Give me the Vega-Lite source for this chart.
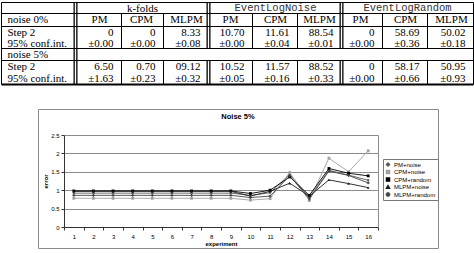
{
  "$schema": "https://vega.github.io/schema/vega-lite/v6.json",
  "padding": 0,
  "background": "white",
  "spacing": 24,
  "center": true,
  "bounds": "flush",
  "config": {"view": {"stroke": null}, "font": "Liberation Sans"},
  "datasets": {
    "vlines": [
      {"c": 0, "k1": 0, "k2": 7}, {"c": 10, "k1": 0, "k2": 7},
      {"c": 1, "k1": 0, "k2": 7},
      {"c": 4, "k1": 0, "k2": 4}, {"c": 4, "k1": 5, "k2": 7},
      {"c": 7, "k1": 0, "k2": 4}, {"c": 7, "k1": 5, "k2": 7},
      {"c": 2, "k1": 1, "k2": 4}, {"c": 2, "k1": 5, "k2": 7},
      {"c": 3, "k1": 1, "k2": 4}, {"c": 3, "k1": 5, "k2": 7},
      {"c": 5, "k1": 1, "k2": 4}, {"c": 5, "k1": 5, "k2": 7},
      {"c": 6, "k1": 1, "k2": 4}, {"c": 6, "k1": 5, "k2": 7},
      {"c": 8, "k1": 1, "k2": 4}, {"c": 8, "k1": 5, "k2": 7},
      {"c": 9, "k1": 1, "k2": 4}, {"c": 9, "k1": 5, "k2": 7}
    ],
    "hlines": [
      {"k": 0, "c1": 0, "c2": 10}, {"k": 1, "c1": 0, "c2": 10},
      {"k": 2, "c1": 0, "c2": 10}, {"k": 4, "c1": 0, "c2": 10},
      {"k": 5, "c1": 0, "c2": 10}, {"k": 7, "c1": 0, "c2": 10}
    ],
    "cells": [
      {"r": 0, "c": 4, "t": "k-folds", "kind": "group"},
      {"r": 0, "c": 7, "t": "EventLogNoise", "kind": "mono"},
      {"r": 0, "c": 10, "t": "EventLogRandom", "kind": "mono"},
      {"r": 1, "c": 0, "t": "noise 0%", "kind": "label"},
      {"r": 1, "c": 2, "t": "PM", "kind": "head"}, {"r": 1, "c": 3, "t": "CPM", "kind": "head"}, {"r": 1, "c": 4, "t": "MLPM", "kind": "head"},
      {"r": 1, "c": 5, "t": "PM", "kind": "head"}, {"r": 1, "c": 6, "t": "CPM", "kind": "head"}, {"r": 1, "c": 7, "t": "MLPM", "kind": "head"},
      {"r": 1, "c": 8, "t": "PM", "kind": "head"}, {"r": 1, "c": 9, "t": "CPM", "kind": "head"}, {"r": 1, "c": 10, "t": "MLPM", "kind": "head"},
      {"r": 2, "c": 0, "t": "Step 2", "kind": "label"},
      {"r": 2, "c": 2, "t": "0", "kind": "num"}, {"r": 2, "c": 3, "t": "0", "kind": "num"}, {"r": 2, "c": 4, "t": "8.33", "kind": "num"},
      {"r": 2, "c": 5, "t": "10.70", "kind": "num"}, {"r": 2, "c": 6, "t": "11.61", "kind": "num"}, {"r": 2, "c": 7, "t": "88.54", "kind": "num"},
      {"r": 2, "c": 8, "t": "0", "kind": "num"}, {"r": 2, "c": 9, "t": "58.69", "kind": "num"}, {"r": 2, "c": 10, "t": "50.02", "kind": "num"},
      {"r": 3, "c": 0, "t": "95% conf.int.", "kind": "label"},
      {"r": 3, "c": 2, "t": "±0.00", "kind": "num"}, {"r": 3, "c": 3, "t": "±0.00", "kind": "num"}, {"r": 3, "c": 4, "t": "±0.08", "kind": "num"},
      {"r": 3, "c": 5, "t": "±0.00", "kind": "num"}, {"r": 3, "c": 6, "t": "±0.04", "kind": "num"}, {"r": 3, "c": 7, "t": "±0.01", "kind": "num"},
      {"r": 3, "c": 8, "t": "±0.00", "kind": "num"}, {"r": 3, "c": 9, "t": "±0.36", "kind": "num"}, {"r": 3, "c": 10, "t": "±0.18", "kind": "num"},
      {"r": 4, "c": 0, "t": "noise 5%", "kind": "label"},
      {"r": 5, "c": 0, "t": "Step 2", "kind": "label"},
      {"r": 5, "c": 2, "t": "6.50", "kind": "num"}, {"r": 5, "c": 3, "t": "0.70", "kind": "num"}, {"r": 5, "c": 4, "t": "09.12", "kind": "num"},
      {"r": 5, "c": 5, "t": "10.52", "kind": "num"}, {"r": 5, "c": 6, "t": "11.57", "kind": "num"}, {"r": 5, "c": 7, "t": "88.52", "kind": "num"},
      {"r": 5, "c": 8, "t": "0", "kind": "num"}, {"r": 5, "c": 9, "t": "58.17", "kind": "num"}, {"r": 5, "c": 10, "t": "50.95", "kind": "num"},
      {"r": 6, "c": 0, "t": "95% conf.int.", "kind": "label"},
      {"r": 6, "c": 2, "t": "±1.63", "kind": "num"}, {"r": 6, "c": 3, "t": "±0.23", "kind": "num"}, {"r": 6, "c": 4, "t": "±0.32", "kind": "num"},
      {"r": 6, "c": 5, "t": "±0.05", "kind": "num"}, {"r": 6, "c": 6, "t": "±0.16", "kind": "num"}, {"r": 6, "c": 7, "t": "±0.33", "kind": "num"},
      {"r": 6, "c": 8, "t": "±0.00", "kind": "num"}, {"r": 6, "c": 9, "t": "±0.66", "kind": "num"}, {"r": 6, "c": 10, "t": "±0.93", "kind": "num"}
    ],
    "err": [
      {"experiment": 1, "series": "PM+noise", "error": 0.92}, {"experiment": 2, "series": "PM+noise", "error": 0.92}, {"experiment": 3, "series": "PM+noise", "error": 0.92}, {"experiment": 4, "series": "PM+noise", "error": 0.92},
      {"experiment": 5, "series": "PM+noise", "error": 0.92}, {"experiment": 6, "series": "PM+noise", "error": 0.92}, {"experiment": 7, "series": "PM+noise", "error": 0.92}, {"experiment": 8, "series": "PM+noise", "error": 0.92},
      {"experiment": 9, "series": "PM+noise", "error": 0.92}, {"experiment": 10, "series": "PM+noise", "error": 0.86}, {"experiment": 11, "series": "PM+noise", "error": 0.93}, {"experiment": 12, "series": "PM+noise", "error": 1.43},
      {"experiment": 13, "series": "PM+noise", "error": 0.80}, {"experiment": 14, "series": "PM+noise", "error": 1.54}, {"experiment": 15, "series": "PM+noise", "error": 1.41}, {"experiment": 16, "series": "PM+noise", "error": 1.27},
      {"experiment": 1, "series": "CPM+noise", "error": 0.78}, {"experiment": 2, "series": "CPM+noise", "error": 0.78}, {"experiment": 3, "series": "CPM+noise", "error": 0.78}, {"experiment": 4, "series": "CPM+noise", "error": 0.78},
      {"experiment": 5, "series": "CPM+noise", "error": 0.78}, {"experiment": 6, "series": "CPM+noise", "error": 0.78}, {"experiment": 7, "series": "CPM+noise", "error": 0.78}, {"experiment": 8, "series": "CPM+noise", "error": 0.78},
      {"experiment": 9, "series": "CPM+noise", "error": 0.78}, {"experiment": 10, "series": "CPM+noise", "error": 0.73}, {"experiment": 11, "series": "CPM+noise", "error": 0.77}, {"experiment": 12, "series": "CPM+noise", "error": 1.48},
      {"experiment": 13, "series": "CPM+noise", "error": 0.72}, {"experiment": 14, "series": "CPM+noise", "error": 1.87}, {"experiment": 15, "series": "CPM+noise", "error": 1.50}, {"experiment": 16, "series": "CPM+noise", "error": 2.07},
      {"experiment": 1, "series": "CPM+random", "error": 0.98}, {"experiment": 2, "series": "CPM+random", "error": 0.98}, {"experiment": 3, "series": "CPM+random", "error": 0.98}, {"experiment": 4, "series": "CPM+random", "error": 0.98},
      {"experiment": 5, "series": "CPM+random", "error": 0.98}, {"experiment": 6, "series": "CPM+random", "error": 0.98}, {"experiment": 7, "series": "CPM+random", "error": 0.98}, {"experiment": 8, "series": "CPM+random", "error": 0.98},
      {"experiment": 9, "series": "CPM+random", "error": 0.98}, {"experiment": 10, "series": "CPM+random", "error": 0.91}, {"experiment": 11, "series": "CPM+random", "error": 1.0}, {"experiment": 12, "series": "CPM+random", "error": 1.36},
      {"experiment": 13, "series": "CPM+random", "error": 0.86}, {"experiment": 14, "series": "CPM+random", "error": 1.59}, {"experiment": 15, "series": "CPM+random", "error": 1.46}, {"experiment": 16, "series": "CPM+random", "error": 1.39},
      {"experiment": 1, "series": "MLPM+noise", "error": 0.97}, {"experiment": 2, "series": "MLPM+noise", "error": 0.97}, {"experiment": 3, "series": "MLPM+noise", "error": 0.97}, {"experiment": 4, "series": "MLPM+noise", "error": 0.97},
      {"experiment": 5, "series": "MLPM+noise", "error": 0.97}, {"experiment": 6, "series": "MLPM+noise", "error": 0.97}, {"experiment": 7, "series": "MLPM+noise", "error": 0.97}, {"experiment": 8, "series": "MLPM+noise", "error": 0.97},
      {"experiment": 9, "series": "MLPM+noise", "error": 0.97}, {"experiment": 10, "series": "MLPM+noise", "error": 0.84}, {"experiment": 11, "series": "MLPM+noise", "error": 0.97}, {"experiment": 12, "series": "MLPM+noise", "error": 1.19},
      {"experiment": 13, "series": "MLPM+noise", "error": 0.84}, {"experiment": 14, "series": "MLPM+noise", "error": 1.28}, {"experiment": 15, "series": "MLPM+noise", "error": 1.18}, {"experiment": 16, "series": "MLPM+noise", "error": 1.07},
      {"experiment": 1, "series": "MLPM+random", "error": 0.86}, {"experiment": 2, "series": "MLPM+random", "error": 0.86}, {"experiment": 3, "series": "MLPM+random", "error": 0.86}, {"experiment": 4, "series": "MLPM+random", "error": 0.86},
      {"experiment": 5, "series": "MLPM+random", "error": 0.86}, {"experiment": 6, "series": "MLPM+random", "error": 0.86}, {"experiment": 7, "series": "MLPM+random", "error": 0.86}, {"experiment": 8, "series": "MLPM+random", "error": 0.86},
      {"experiment": 9, "series": "MLPM+random", "error": 0.86}, {"experiment": 10, "series": "MLPM+random", "error": 0.80}, {"experiment": 11, "series": "MLPM+random", "error": 0.84}, {"experiment": 12, "series": "MLPM+random", "error": 1.39},
      {"experiment": 13, "series": "MLPM+random", "error": 0.76}, {"experiment": 14, "series": "MLPM+random", "error": 1.52}, {"experiment": 15, "series": "MLPM+random", "error": 1.40}, {"experiment": 16, "series": "MLPM+random", "error": 1.20}
    ]
  },
  "vconcat": [
    {
      "width": 474,
      "height": 84,
      "layer": [
        {
          "data": {"name": "vlines"},
          "transform": [{"filter": "indexof([1,4,7], datum.c) < 0"}],
          "mark": {"type": "rule", "color": "black", "strokeWidth": 1},
          "encoding": {
            "x": {"field": "c", "type": "quantitative", "axis": null, "scale": {"type": "linear", "domain": [0,1,2,3,4,5,6,7,8,9,10], "range": [0.5,74.5,120.5,162.5,207.5,251.5,296.5,340.5,381.5,426.5,472.5], "nice": false, "zero": false}},
            "y": {"field": "k1", "type": "quantitative", "axis": null, "scale": {"type": "linear", "domain": [0,1,2,4,5,7], "range": [1.5,12.5,25.5,47.5,59.5,83.5], "nice": false, "zero": false}},
            "y2": {"field": "k2"}
          }
        },
        {
          "data": {"name": "vlines"},
          "transform": [{"filter": "indexof([1,4,7], datum.c) >= 0"}],
          "mark": {"type": "rule", "color": "black", "strokeWidth": 4},
          "encoding": {
            "x": {"field": "c", "type": "quantitative", "axis": null},
            "y": {"field": "k1", "type": "quantitative", "axis": null},
            "y2": {"field": "k2"}
          }
        },
        {
          "data": {"name": "vlines"},
          "transform": [{"filter": "indexof([1,4,7], datum.c) >= 0"}],
          "mark": {"type": "rule", "color": "white", "strokeWidth": 1.4},
          "encoding": {
            "x": {"field": "c", "type": "quantitative", "axis": null},
            "y": {"field": "k1", "type": "quantitative", "axis": null},
            "y2": {"field": "k2"}
          }
        },
        {
          "data": {"name": "hlines"},
          "transform": [{"filter": "datum.k < 7"}],
          "mark": {"type": "rule", "color": "black", "strokeWidth": 1},
          "encoding": {
            "y": {"field": "k", "type": "quantitative", "axis": null},
            "x": {"field": "c1", "type": "quantitative", "axis": null},
            "x2": {"field": "c2"}
          }
        },
        {
          "data": {"name": "hlines"},
          "transform": [{"filter": "datum.k == 7"}],
          "mark": {"type": "rule", "color": "black", "strokeWidth": 1.8},
          "encoding": {
            "y": {"field": "k", "type": "quantitative", "axis": null},
            "x": {"field": "c1", "type": "quantitative", "axis": null},
            "x2": {"field": "c2"}
          }
        },
        {
          "data": {"name": "cells"},
          "transform": [{"filter": "datum.kind == 'label'"}],
          "mark": {"type": "text", "align": "left", "baseline": "top", "dx": 6, "font": "Liberation Serif", "fontSize": 11, "color": "black"},
          "encoding": {
            "x": {"field": "c", "type": "quantitative", "axis": null},
            "y": {"field": "r", "type": "quantitative", "axis": null},
            "text": {"field": "t"}
          }
        },
        {
          "data": {"name": "cells"},
          "transform": [{"filter": "datum.kind == 'head'"}],
          "mark": {"type": "text", "align": "center", "baseline": "top", "dx": -22, "font": "Liberation Serif", "fontSize": 11, "color": "black"},
          "encoding": {
            "x": {"field": "c", "type": "quantitative", "axis": null},
            "y": {"field": "r", "type": "quantitative", "axis": null},
            "text": {"field": "t"}
          }
        },
        {
          "data": {"name": "cells"},
          "transform": [{"filter": "datum.kind == 'num'"}],
          "mark": {"type": "text", "align": "right", "baseline": "top", "dx": -8, "font": "Liberation Serif", "fontSize": 11, "color": "black"},
          "encoding": {
            "x": {"field": "c", "type": "quantitative", "axis": null},
            "y": {"field": "r", "type": "quantitative", "axis": null},
            "text": {"field": "t"}
          }
        },
        {
          "data": {"name": "cells"},
          "transform": [{"filter": "datum.kind == 'group'"}],
          "mark": {"type": "text", "align": "center", "baseline": "top", "dx": -66, "font": "Liberation Serif", "fontSize": 11, "color": "black"},
          "encoding": {
            "x": {"field": "c", "type": "quantitative", "axis": null},
            "y": {"field": "r", "type": "quantitative", "axis": null},
            "text": {"field": "t"}
          }
        },
        {
          "data": {"name": "cells"},
          "transform": [{"filter": "datum.kind == 'mono'"}],
          "mark": {"type": "text", "align": "center", "baseline": "top", "dx": -66, "font": "Liberation Mono", "fontSize": 10.5, "color": "#333333"},
          "encoding": {
            "x": {"field": "c", "type": "quantitative", "axis": null},
            "y": {"field": "r", "type": "quantitative", "axis": null},
            "text": {"field": "t"}
          }
        }
      ]
    },
    {
      "width": 400,
      "height": 139,
      "view": {"stroke": "#8a8a8a", "fill": "white", "strokeWidth": 1},
      "title": {"text": "Noise 5%", "font": "Liberation Sans", "fontSize": 7.5, "fontWeight": "bold", "color": "black", "anchor": "middle", "frame": "group", "baseline": "alphabetic", "offset": -17},
      "data": {"name": "err"},
      "layer": [
        {
          "mark": {"type": "line", "strokeWidth": 0.9},
          "encoding": {
            "x": {"field": "experiment", "type": "ordinal", "scale": {"type": "band", "range": [26, 340], "paddingInner": 0, "paddingOuter": 0},
              "axis": {"title": "experiment", "offset": -21, "labelAngle": 0, "labelFontSize": 6, "labelColor": "black", "labelPadding": 3, "tickSize": 3, "tickBand": "extent", "tickColor": "#333333", "domainColor": "#333333", "titleFontSize": 6, "titleFontWeight": "bold", "titleColor": "black", "titlePadding": 1, "grid": false}},
            "y": {"field": "error", "type": "quantitative", "scale": {"domain": [0, 2.5], "range": [118, 26], "nice": false, "zero": true},
              "axis": {"title": "error", "orient": "left", "offset": -26, "values": [0, 0.5, 1, 1.5, 2, 2.5], "format": "~g", "grid": true, "gridColor": "#8c8c8c", "gridWidth": 1, "labelFontSize": 6, "labelColor": "black", "labelPadding": 2, "tickSize": 3, "tickColor": "#333333", "domainColor": "#333333", "titleFontSize": 6, "titleFontWeight": "bold", "titleColor": "black", "titlePadding": 2}},
            "color": {"field": "series", "type": "nominal", "sort": ["PM+noise", "CPM+noise", "CPM+random", "MLPM+noise", "MLPM+random"],
              "scale": {"domain": ["PM+noise", "CPM+noise", "CPM+random", "MLPM+noise", "MLPM+random"], "range": ["#5a5a5a", "#a0a0a0", "#000000", "#1a1a1a", "#444444"]},
              "legend": {"title": null, "orient": "none", "legendX": 382, "legendY": 158, "strokeColor": "#777777", "fillColor": "white", "padding": 2, "labelFontSize": 6, "labelFont": "Liberation Sans", "labelColor": "black", "symbolSize": 9, "clipHeight": 7, "rowPadding": 0.5, "labelOffset": 3, "labelLimit": 80}}
          }
        },
        {
          "mark": {"type": "point", "filled": true, "size": 8, "opacity": 1},
          "encoding": {
            "x": {"field": "experiment", "type": "ordinal"},
            "y": {"field": "error", "type": "quantitative",
              "axis": {"orient": "right", "offset": -60, "domain": true, "domainColor": "#8c8c8c", "ticks": false, "labels": false, "grid": false, "title": null}},
            "color": {"field": "series", "type": "nominal"},
            "shape": {"field": "series", "type": "nominal", "sort": ["PM+noise", "CPM+noise", "CPM+random", "MLPM+noise", "MLPM+random"],
              "scale": {"domain": ["PM+noise", "CPM+noise", "CPM+random", "MLPM+noise", "MLPM+random"], "range": ["diamond", "square", "square", "triangle-up", "cross"]},
              "legend": {"title": null, "orient": "none", "legendX": 382, "legendY": 158, "strokeColor": "#777777", "fillColor": "white", "padding": 2, "labelFontSize": 6, "labelFont": "Liberation Sans", "labelColor": "black", "symbolSize": 9, "clipHeight": 7, "rowPadding": 0.5, "labelOffset": 3, "labelLimit": 80}}
          }
        }
      ],
      "resolve": {"axis": {"y": "independent"}}
    }
  ]
}
